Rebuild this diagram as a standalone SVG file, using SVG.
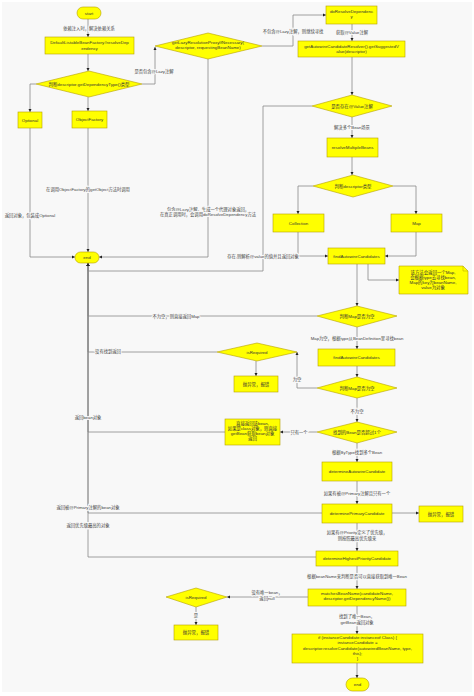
<svg xmlns="http://www.w3.org/2000/svg" width="474" height="696" viewBox="0 0 474 696">
<defs>
<marker id="arr" viewBox="0 0 6 6" refX="6" refY="3" markerWidth="3.2" markerHeight="3.2" orient="auto" markerUnits="userSpaceOnUse"><path d="M0,0 L6,3 L0,6 Z" fill="#222"/></marker>
<style>
.n{fill:#ffff00;stroke:#b5a000;stroke-width:0.6}
.t{font-family:"Liberation Sans","Noto Sans CJK SC",sans-serif;font-size:4.4px;fill:#333;text-anchor:middle}
.c path{fill:none;stroke:#888;stroke-width:0.8;marker-end:url(#arr)}
.l{font-family:"Liberation Sans","Noto Sans CJK SC",sans-serif;font-size:4.3px;fill:#444;text-anchor:middle;stroke:#f8f8f8;stroke-width:2;paint-order:stroke}
</style>
</defs>
<rect x="0" y="0" width="474" height="696" fill="#ffffff"/>
<rect x="2" y="2" width="470" height="690" fill="#f8f8f8"/>

<g class="c" id="connectors">
<path d="M88,19 V37"/>
<path d="M88,54 V71"/>
<path d="M36,84 H30 V112"/>
<path d="M88,97 V111"/>
<path d="M142,84 H155 V47"/>
<path d="M262,46 H293 V15 H326"/>
<path d="M208,59 V257 H99"/>
<path d="M30,128 V257 H75"/>
<path d="M88,128 V252"/>
<path d="M352,24 V41"/>
<path d="M352,57 V95"/>
<path d="M312,106 H263 V271 H88 V263"/>
<path d="M352,117 V138"/>
<path d="M352,157 V175"/>
<path d="M313,186 H298 V214"/>
<path d="M393,186 H416 V214"/>
<path d="M298,232 V256 H328"/>
<path d="M416,232 V256 H385"/>
<path d="M357,264 V306"/>
<path d="M368,264 V280 H399"/>
<path d="M317,316 H88 V263"/>
<path d="M357,327 V349"/>
<path d="M357,366 V377"/>
<path d="M317,388 H297 V352"/>
<path d="M217,352 H88 V263"/>
<path d="M256,361 V376"/>
<path d="M357,398 V422"/>
<path d="M317,432 H280"/>
<path d="M225,432 H88 V263"/>
<path d="M357,443 V462"/>
<path d="M357,481 V504"/>
<path d="M322,513 H88 V263"/>
<path d="M392,513 H419"/>
<path d="M357,523 V551"/>
<path d="M316,557 H88 V263"/>
<path d="M357,566 V589"/>
<path d="M308,597 H227"/>
<path d="M196,607 V625"/>
<path d="M357,606 V634"/>
<path d="M357,663 V678"/>
</g>

<g id="edge-labels">
<text class="l" x="89" y="29.5">依赖注入时，解决依赖关系</text>
<text class="l" x="154" y="72.5">是否包含@Lazy注解</text>
<text class="l" x="293" y="32.5">不包含@Lazy注解，则继续寻找</text>
<text class="l" x="208" y="210.5">包含@Lazy注解，生成一个代理对象返回，</text>
<text class="l" x="208" y="215.5">在真正调用时，会调用doResolveDependency方法</text>
<text class="l" x="30" y="216.5">返回对象，包装成Optional</text>
<text class="l" x="88" y="190.5">在调用ObjectFactory的getObject方法时调用</text>
<text class="l" x="352" y="33.5">获取@Value注解</text>
<text class="l" x="263" y="257.5">存在,则解析@value的值并且返回对象</text>
<text class="l" x="352" y="128.5">解决多个Bean场景</text>
<text class="l" x="176" y="317.5">不为空，则直接返回Map</text>
<text class="l" x="357" y="339.5">Map为空，根据type从BeanDefinition里寻找bean</text>
<text class="l" x="297" y="380.5">为空</text>
<text class="l" x="108" y="352.5">没有找到返回</text>
<text class="l" x="357" y="412.5">不为空</text>
<text class="l" x="299" y="433.5">只有一个</text>
<text class="l" x="88" y="418.5">返回bean对象</text>
<text class="l" x="357" y="453.5">根据ByType找到多个Bean</text>
<text class="l" x="357" y="494.5">如果有被@Primary注解且只有一个</text>
<text class="l" x="88" y="508.5">返回被@Primary注解的bean对象</text>
<text class="l" x="357" y="534">如果有@Priority定义了优先级，</text>
<text class="l" x="357" y="539.5">则按照最高优先级来</text>
<text class="l" x="88" y="526.5">返回优先级最高的对象</text>
<text class="l" x="357" y="577.5">根据beanName来判断是否可以直接获取到唯一Bean</text>
<text class="l" x="267" y="594">没有唯一bean，</text>
<text class="l" x="267" y="599.5">返回null</text>
<text class="l" x="196" y="616.5">是</text>
<text class="l" x="357" y="618">找到了唯一Bean，</text>
<text class="l" x="357" y="623.5">getBean返回对象</text>
</g>

<g id="start"><rect class="n" x="77" y="7" width="24" height="12" rx="6"/><text class="t" x="89" y="14.5">start</text></g>
<g id="resolveDependency"><rect class="n" x="45" y="37" width="89" height="17"/><text class="t" x="89.5" y="44">DefaultListableBeanFactory#resolveDep</text><text class="t" x="89.5" y="49.5">endency</text></g>
<g id="typeCheck"><polygon class="n" points="89,71 142,84 89,97 36,84"/><text class="t" x="89" y="85.5">判断descriptor.getDependencyType()类型</text></g>
<g id="optional"><rect class="n" x="18" y="112" width="24" height="16"/><text class="t" x="30" y="121.5">Optional</text></g>
<g id="objectFactory"><rect class="n" x="72" y="111" width="35" height="17"/><text class="t" x="89.5" y="121">ObjectFactory</text></g>
<g id="getLazy"><polygon class="n" points="208,33 262,46 208,59 155,46"/><text class="t" x="208" y="44">getLazyResolutionProxyIfNecessary(</text><text class="t" x="208" y="49">descriptor, requestingBeanName)</text></g>
<g id="end1"><rect class="n" x="75" y="252" width="24" height="11" rx="5.5"/><text class="t" x="87" y="259">end</text></g>
<g id="doResolveDependency"><rect class="n" x="326" y="6" width="51" height="18"/><text class="t" x="351.5" y="12.5">doResolveDependenc</text><text class="t" x="351.5" y="18">y</text></g>
<g id="getSuggestedValue"><rect class="n" x="298" y="41" width="107" height="16"/><text class="t" x="351.5" y="47.5">getAutowireCandidateResolver().getSuggestedV</text><text class="t" x="351.5" y="53">alue(descriptor)</text></g>
<g id="valueCheck"><polygon class="n" points="352,95 392,106 352,117 312,106"/><text class="t" x="352" y="107.5">是否存在@Value注解</text></g>
<g id="resolveMultipleBeans"><rect class="n" x="327" y="138" width="51" height="19"/><text class="t" x="352.5" y="149">resolveMultipleBeans</text></g>
<g id="descriptorType"><polygon class="n" points="353,175 393,186 353,197 313,186"/><text class="t" x="353" y="187.5">判断descriptor类型</text></g>
<g id="collection"><rect class="n" x="273" y="214" width="51" height="18"/><text class="t" x="298.5" y="224.5">Collection</text></g>
<g id="map"><rect class="n" x="391" y="214" width="51" height="18"/><text class="t" x="416.5" y="224.5">Map</text></g>
<g id="findAutowireCandidates1"><rect class="n" x="328" y="248" width="57" height="16"/><text class="t" x="356.5" y="257.5">findAutowireCandidates</text></g>
<g id="note"><path class="n" d="M399,266 H463 L468,271 V294 H399 Z"/><path d="M463,266 V271 H468" fill="none" stroke="#b5a000" stroke-width="0.5"/><text class="t" x="433" y="273.5">该方法会返回一个Map,</text><text class="t" x="433" y="278.5">会根据type去寻找bean,</text><text class="t" x="433" y="283.5">Map的key为beanName,</text><text class="t" x="433" y="289">value为对象</text></g>
<g id="mapEmpty1"><polygon class="n" points="357,306 397,316 357,327 317,316"/><text class="t" x="357" y="317.5">判断Map是否为空</text></g>
<g id="findAutowireCandidates2"><rect class="n" x="318" y="349" width="77" height="17"/><text class="t" x="356.5" y="359">findAutowireCandidates</text></g>
<g id="mapEmpty2"><polygon class="n" points="357,377 397,388 357,398 317,388"/><text class="t" x="357" y="389.5">判断Map是否为空</text></g>
<g id="isRequired1"><polygon class="n" points="257,343 297,352 257,361 217,352"/><text class="t" x="257" y="353.5">isRequired</text></g>
<g id="throw1"><rect class="n" x="234" y="376" width="44" height="16"/><text class="t" x="256" y="385.5">抛异常，报错</text></g>
<g id="moreThanOne"><polygon class="n" points="357,422 397,432 357,443 317,432"/><text class="t" x="357" y="433.5">找到的Bean是否超过1个</text></g>
<g id="returnBean"><rect class="n" x="225" y="419" width="55" height="26"/><text class="t" x="252.5" y="424.5">直接返回该bean,</text><text class="t" x="252.5" y="429.5">如果是class对象，则直接</text><text class="t" x="252.5" y="434.5">getBean获取bean对象</text><text class="t" x="252.5" y="440">返回</text></g>
<g id="determineAutowireCandidate"><rect class="n" x="322" y="462" width="70" height="19"/><text class="t" x="357" y="473">determineAutowireCandidate</text></g>
<g id="determinePrimaryCandidate"><rect class="n" x="322" y="504" width="70" height="19"/><text class="t" x="357" y="515">determinePrimaryCandidate</text></g>
<g id="throw2"><rect class="n" x="419" y="506" width="44" height="16"/><text class="t" x="441" y="515.5">抛异常，报错</text></g>
<g id="determineHighestPriorityCandidate"><rect class="n" x="316" y="551" width="82" height="15"/><text class="t" x="357" y="560">determineHighestPriorityCandidate</text></g>
<g id="matchesBeanName"><rect class="n" x="308" y="589" width="98" height="17"/><text class="t" x="357" y="595">matchesBeanName(candidateName,</text><text class="t" x="357" y="600">descriptor.getDependencyName())</text></g>
<g id="isRequired2"><polygon class="n" points="196,588 227,597 196,607 166,597"/><text class="t" x="196" y="598.5">isRequired</text></g>
<g id="throw3"><rect class="n" x="174" y="625" width="44" height="15"/><text class="t" x="196" y="634">抛异常，报错</text></g>
<g id="resolveCandidate"><rect class="n" x="292" y="634" width="131" height="29"/><text class="t" x="357.5" y="639">if (instanceCandidate instanceof Class) {</text><text class="t" x="357.5" y="644">instanceCandidate =</text><text class="t" x="357.5" y="649.5">descriptor.resolveCandidate(autowiredBeanName, type,</text><text class="t" x="357.5" y="654.5">this);</text><text class="t" x="357.5" y="660">}</text></g>
<g id="end2"><rect class="n" x="346" y="678" width="23" height="13" rx="6.5"/><text class="t" x="357.5" y="686">end</text></g>
</svg>
